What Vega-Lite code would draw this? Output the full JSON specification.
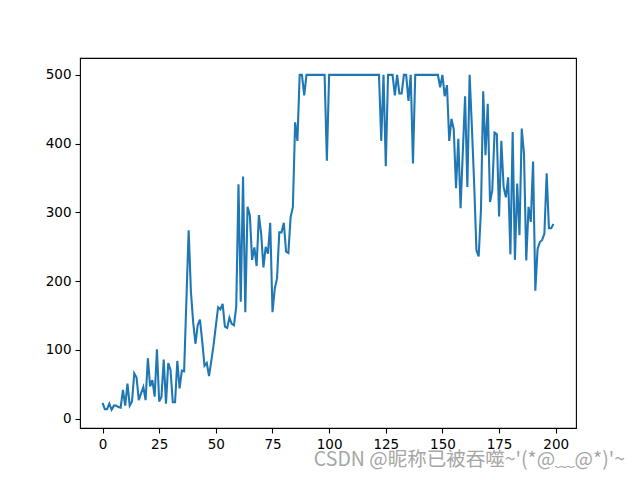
{
  "$schema": "https://vega.github.io/schema/vega-lite/v6.json",
  "autosize": {"type": "none"},
  "width": 496,
  "height": 370,
  "padding": {"left": 80, "top": 58, "right": 64, "bottom": 52},
  "background": "white",
  "config": {
    "view": {"stroke": "black", "strokeWidth": 1.1},
    "font": "DejaVu Sans",
    "axis": {
      "grid": false,
      "domain": false,
      "tickColor": "black",
      "tickWidth": 1.1,
      "tickSize": 5,
      "labelPadding": 4,
      "labelFont": "DejaVu Sans",
      "labelFontSize": 13.5,
      "labelColor": "black",
      "title": null
    }
  },
  "title": {
    "text": "CSDN @昵称已被吞噬~'(*@﹏@*)'~",
    "orient": "bottom",
    "anchor": "end",
    "font": "Noto Sans CJK SC",
    "fontSize": 19.5,
    "fontWeight": "normal",
    "color": "#a6a6a6",
    "offset": 0,
    "dx": 49
  },
  "data": {
    "values": [
      {"ep":0,"r":23},{"ep":1,"r":14},{"ep":2,"r":14},{"ep":3,"r":22},{"ep":4,"r":13},
      {"ep":5,"r":19},{"ep":6,"r":19},{"ep":7,"r":17},{"ep":8,"r":16},{"ep":9,"r":42},
      {"ep":10,"r":19},{"ep":11,"r":51},{"ep":12,"r":19},{"ep":13,"r":25},{"ep":14,"r":66},
      {"ep":15,"r":60},{"ep":16,"r":27},{"ep":17,"r":37},{"ep":18,"r":46},{"ep":19,"r":27},
      {"ep":20,"r":88},{"ep":21,"r":47},{"ep":22,"r":56},{"ep":23,"r":32},{"ep":24,"r":101},
      {"ep":25,"r":25},{"ep":26,"r":32},{"ep":27,"r":86},{"ep":28,"r":22},{"ep":29,"r":81},
      {"ep":30,"r":71},{"ep":31,"r":24},{"ep":32,"r":24},{"ep":33,"r":84},{"ep":34,"r":44},
      {"ep":35,"r":70},{"ep":36,"r":69},{"ep":37,"r":172},{"ep":38,"r":274},{"ep":39,"r":185},
      {"ep":40,"r":140},{"ep":41,"r":109},{"ep":42,"r":136},{"ep":43,"r":144},{"ep":44,"r":112},
      {"ep":45,"r":77},{"ep":46,"r":81},{"ep":47,"r":62},{"ep":48,"r":84},{"ep":49,"r":107},
      {"ep":50,"r":135},{"ep":51,"r":162},{"ep":52,"r":159},{"ep":53,"r":167},{"ep":54,"r":134},
      {"ep":55,"r":132},{"ep":56,"r":147},{"ep":57,"r":138},{"ep":58,"r":136},{"ep":59,"r":163},
      {"ep":60,"r":341},{"ep":61,"r":170},{"ep":62,"r":352},{"ep":63,"r":155},{"ep":64,"r":308},
      {"ep":65,"r":296},{"ep":66,"r":231},{"ep":67,"r":249},{"ep":68,"r":222},{"ep":69,"r":296},
      {"ep":70,"r":269},{"ep":71,"r":220},{"ep":72,"r":250},{"ep":73,"r":240},{"ep":74,"r":285},
      {"ep":75,"r":155},{"ep":76,"r":189},{"ep":77,"r":204},{"ep":78,"r":271},{"ep":79,"r":271},
      {"ep":80,"r":285},{"ep":81,"r":243},{"ep":82,"r":241},{"ep":83,"r":293},{"ep":84,"r":308},
      {"ep":85,"r":431},{"ep":86,"r":404},{"ep":87,"r":500},{"ep":88,"r":500},{"ep":89,"r":470},
      {"ep":90,"r":500},{"ep":91,"r":500},{"ep":92,"r":500},{"ep":93,"r":500},{"ep":94,"r":500},
      {"ep":95,"r":500},{"ep":96,"r":500},{"ep":97,"r":500},{"ep":98,"r":500},{"ep":99,"r":375},
      {"ep":100,"r":500},{"ep":101,"r":500},{"ep":102,"r":500},{"ep":103,"r":500},{"ep":104,"r":500},
      {"ep":105,"r":500},{"ep":106,"r":500},{"ep":107,"r":500},{"ep":108,"r":500},{"ep":109,"r":500},
      {"ep":110,"r":500},{"ep":111,"r":500},{"ep":112,"r":500},{"ep":113,"r":500},{"ep":114,"r":500},
      {"ep":115,"r":500},{"ep":116,"r":500},{"ep":117,"r":500},{"ep":118,"r":500},{"ep":119,"r":500},
      {"ep":120,"r":500},{"ep":121,"r":500},{"ep":122,"r":500},{"ep":123,"r":404},{"ep":124,"r":500},
      {"ep":125,"r":367},{"ep":126,"r":500},{"ep":127,"r":500},{"ep":128,"r":500},{"ep":129,"r":470},
      {"ep":130,"r":500},{"ep":131,"r":473},{"ep":132,"r":473},{"ep":133,"r":500},{"ep":134,"r":500},
      {"ep":135,"r":462},{"ep":136,"r":500},{"ep":137,"r":371},{"ep":138,"r":500},{"ep":139,"r":500},
      {"ep":140,"r":500},{"ep":141,"r":500},{"ep":142,"r":500},{"ep":143,"r":500},{"ep":144,"r":500},
      {"ep":145,"r":500},{"ep":146,"r":500},{"ep":147,"r":500},{"ep":148,"r":500},{"ep":149,"r":482},
      {"ep":150,"r":500},{"ep":151,"r":469},{"ep":152,"r":485},{"ep":153,"r":404},{"ep":154,"r":436},
      {"ep":155,"r":421},{"ep":156,"r":335},{"ep":157,"r":407},{"ep":158,"r":306},{"ep":159,"r":388},
      {"ep":160,"r":469},{"ep":161,"r":337},{"ep":162,"r":500},{"ep":163,"r":424},{"ep":164,"r":342},
      {"ep":165,"r":245},{"ep":166,"r":236},{"ep":167,"r":303},{"ep":168,"r":476},{"ep":169,"r":383},
      {"ep":170,"r":458},{"ep":171,"r":315},{"ep":172,"r":332},{"ep":173,"r":416},{"ep":174,"r":414},
      {"ep":175,"r":294},{"ep":176,"r":404},{"ep":177,"r":337},{"ep":178,"r":322},{"ep":179,"r":351},
      {"ep":180,"r":239},{"ep":181,"r":417},{"ep":182,"r":231},{"ep":183,"r":342},{"ep":184,"r":267},
      {"ep":185,"r":422},{"ep":186,"r":385},{"ep":187,"r":230},{"ep":188,"r":308},{"ep":189,"r":286},
      {"ep":190,"r":374},{"ep":191,"r":186},{"ep":192,"r":247},{"ep":193,"r":257},{"ep":194,"r":260},
      {"ep":195,"r":269},{"ep":196,"r":357},{"ep":197,"r":277},{"ep":198,"r":277},{"ep":199,"r":283}
    ]
  },
  "mark": {"type": "line", "color": "#1f77b4", "strokeWidth": 2.08, "clip": true},
  "encoding": {
    "x": {
      "field": "ep", "type": "quantitative",
      "scale": {"domain": [-9.95, 208.95], "nice": false, "zero": false},
      "axis": {"values": [0, 25, 50, 75, 100, 125, 150, 175, 200], "format": "d"}
    },
    "y": {
      "field": "r", "type": "quantitative",
      "scale": {"domain": [-13.5, 524.5], "nice": false, "zero": false},
      "axis": {"values": [0, 100, 200, 300, 400, 500], "format": "d"}
    }
  }
}
